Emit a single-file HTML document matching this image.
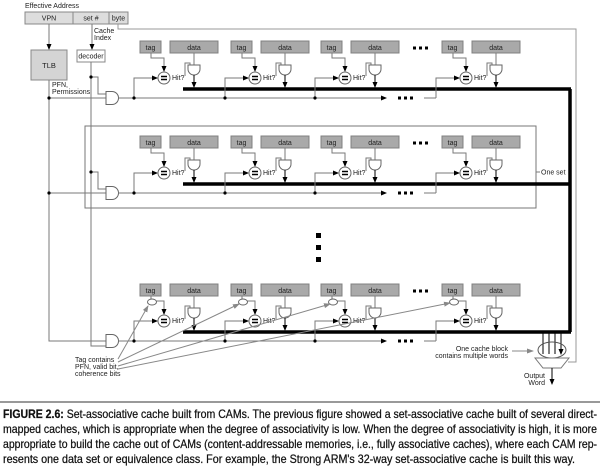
<!DOCTYPE html>
<html><head><meta charset="utf-8"><style>
html,body{margin:0;padding:0;background:#fff;}
svg{display:block;font-family:"Liberation Sans",sans-serif;}
.w{fill:none;stroke:#7a7a7a;stroke-width:1;}
.t{font-size:7px;fill:#222;}
</style></head><body>
<svg width="600" height="468" viewBox="0 0 600 468" xmlns="http://www.w3.org/2000/svg">
<defs>
<marker id="a" markerWidth="6" markerHeight="6" refX="5" refY="3" orient="auto" markerUnits="userSpaceOnUse"><path d="M0,0.5 L6,3 L0,5.5Z" fill="#000"/></marker>
<marker id="g" markerWidth="7" markerHeight="6" refX="6" refY="3" orient="auto" markerUnits="userSpaceOnUse"><path d="M0,0.5 L7,3 L0,5.5Z" fill="#888"/></marker>
<g id="col">
<rect x="0" y="0" width="21" height="12" fill="#a9a9a9" stroke="#808080"/>
<rect x="30" y="0" width="48" height="12" fill="#a9a9a9" stroke="#808080"/>
<path class="w" d="M11 12V17H24V30" marker-end="url(#a)"/>
<path class="w" d="M-6 57V37H17" marker-end="url(#a)"/>
<circle cx="24" cy="37" r="6" fill="#fff" stroke="#666"/>
<path d="M21 35.5h6M21 38.5h6" stroke="#000" stroke-width="1.5"/>
<path class="w" d="M45 35V22H50V24"/>
<path class="w" d="M54 12V24"/>
<path d="M48 24H60V28A6 6 0 0 1 48 28Z" fill="#fff" stroke="#666"/>
<path class="w" d="M54 34V46" marker-end="url(#a)" style="stroke:#000"/>
</g>
<g id="dot"><circle cx="-6" cy="57" r="1.6" fill="#000"/></g>
<g id="el"><ellipse cx="12" cy="18" rx="4.5" ry="3" fill="#fff" stroke="#666"/></g>
</defs>

<text x="25" y="8" class="t">Effective Address</text>
<rect x="25" y="12" width="48" height="12" fill="#ddd" stroke="#888"/>
<rect x="73" y="12" width="36" height="12" fill="#ddd" stroke="#888"/>
<rect x="109" y="12" width="19" height="12" fill="#ddd" stroke="#888"/>
<text x="49" y="20.5" class="t" text-anchor="middle">VPN</text>
<text x="91" y="20.5" class="t" text-anchor="middle">set #</text>
<text x="118.5" y="20.5" class="t" text-anchor="middle">byte</text>
<path d="M118 24V29H576V362H568" fill="none" stroke="#999"/>
<path class="w" d="M49 24V49" marker-end="url(#a)"/>
<path class="w" d="M92 24V49" marker-end="url(#a)"/>
<text x="94" y="33" class="t">Cache</text><text x="94" y="40" class="t">Index</text>
<rect x="31" y="50" width="36" height="30" fill="#d4d4d4" stroke="#888"/>
<text x="49" y="68" class="t" text-anchor="middle" style="font-size:7.5px">TLB</text>
<rect x="77" y="50" width="28" height="12" fill="#fff" stroke="#888"/>
<text x="91" y="58.5" class="t" text-anchor="middle">decoder</text>
<text x="52" y="87" class="t">PFN,</text><text x="52" y="94" class="t">Permissions</text>
<path class="w" d="M49 80V341H106"/>
<path class="w" d="M91 62V346H106"/>

<rect x="85" y="126" width="451" height="82" fill="none" stroke="#777"/>
<path class="w" d="M536 172H540"/>
<text x="541" y="174.5" class="t">One set</text>

<path d="M570 89V332" stroke="#000" stroke-width="3.5" fill="none"/>

<g>
<path d="M183 89H571" stroke="#000" stroke-width="3.5"/>
<path class="w" d="M49 98H106M91 77H98V94H106"/>
<circle cx="49" cy="98" r="1.6"/><circle cx="91" cy="77" r="1.6"/>
<path d="M106 91.5H112A6.5 6.5 0 0 1 112 104.5H106Z" fill="#fff" stroke="#666"/>
<path class="w" d="M119 98H386" marker-end="url(#a)"/>
<path class="w" d="M424 98H436"/>
<rect x="398" y="96.5" width="3" height="3"/><rect x="404" y="96.5" width="3" height="3"/><rect x="410" y="96.5" width="3" height="3"/>
<rect x="413" y="46.5" width="3" height="3"/><rect x="419" y="46.5" width="3" height="3"/><rect x="425" y="46.5" width="3" height="3"/>
<use href="#col" x="140" y="41"/><use href="#col" x="231" y="41"/><use href="#col" x="321" y="41"/><use href="#col" x="442" y="41"/>
<use href="#dot" x="140" y="41"/><use href="#dot" x="231" y="41"/><use href="#dot" x="321" y="41"/>
</g>
<g>
<path d="M183 184H571" stroke="#000" stroke-width="3.5"/>
<path class="w" d="M49 193H106M91 172H98V189H106"/>
<circle cx="49" cy="193" r="1.6"/><circle cx="91" cy="172" r="1.6"/>
<path d="M106 186.5H112A6.5 6.5 0 0 1 112 199.5H106Z" fill="#fff" stroke="#666"/>
<path class="w" d="M119 193H386" marker-end="url(#a)"/>
<path class="w" d="M424 193H436"/>
<rect x="398" y="191.5" width="3" height="3"/><rect x="404" y="191.5" width="3" height="3"/><rect x="410" y="191.5" width="3" height="3"/>
<rect x="413" y="141.5" width="3" height="3"/><rect x="419" y="141.5" width="3" height="3"/><rect x="425" y="141.5" width="3" height="3"/>
<use href="#col" x="140" y="136"/><use href="#col" x="231" y="136"/><use href="#col" x="321" y="136"/><use href="#col" x="442" y="136"/>
<use href="#dot" x="140" y="136"/><use href="#dot" x="231" y="136"/><use href="#dot" x="321" y="136"/>
</g>
<g>
<path d="M183 332H571" stroke="#000" stroke-width="3.5"/>
<path d="M106 334.5H112A6.5 6.5 0 0 1 112 347.5H106Z" fill="#fff" stroke="#666"/>
<path class="w" d="M119 341H386" marker-end="url(#a)"/>
<path class="w" d="M424 341H436"/>
<rect x="398" y="339.5" width="3" height="3"/><rect x="404" y="339.5" width="3" height="3"/><rect x="410" y="339.5" width="3" height="3"/>
<rect x="413" y="289.5" width="3" height="3"/><rect x="419" y="289.5" width="3" height="3"/><rect x="425" y="289.5" width="3" height="3"/>
<use href="#col" x="140" y="284"/><use href="#col" x="231" y="284"/><use href="#col" x="321" y="284"/><use href="#col" x="442" y="284"/>
<use href="#dot" x="140" y="284"/><use href="#dot" x="231" y="284"/><use href="#dot" x="321" y="284"/>
<use href="#el" x="140" y="284"/><use href="#el" x="231" y="284"/><use href="#el" x="321" y="284"/><use href="#el" x="442" y="284"/>
</g>

<g class="t" text-anchor="middle">
<text x="150.5" y="50">tag</text><text x="194" y="50">data</text>
<text x="241.5" y="50">tag</text><text x="285" y="50">data</text>
<text x="331.5" y="50">tag</text><text x="375" y="50">data</text>
<text x="452.5" y="50">tag</text><text x="496" y="50">data</text>
<text x="150.5" y="145">tag</text><text x="194" y="145">data</text>
<text x="241.5" y="145">tag</text><text x="285" y="145">data</text>
<text x="331.5" y="145">tag</text><text x="375" y="145">data</text>
<text x="452.5" y="145">tag</text><text x="496" y="145">data</text>
<text x="150.5" y="293">tag</text><text x="194" y="293">data</text>
<text x="241.5" y="293">tag</text><text x="285" y="293">data</text>
<text x="331.5" y="293">tag</text><text x="375" y="293">data</text>
<text x="452.5" y="293">tag</text><text x="496" y="293">data</text>
</g>
<g class="t">
<text x="172" y="80">Hit?</text><text x="263" y="80">Hit?</text><text x="353" y="80">Hit?</text><text x="474" y="80">Hit?</text>
<text x="172" y="175">Hit?</text><text x="263" y="175">Hit?</text><text x="353" y="175">Hit?</text><text x="474" y="175">Hit?</text>
<text x="172" y="323">Hit?</text><text x="263" y="323">Hit?</text><text x="353" y="323">Hit?</text><text x="474" y="323">Hit?</text>
</g>

<rect x="316" y="233" width="5" height="5"/><rect x="316" y="245" width="5" height="5"/><rect x="316" y="257" width="5" height="5"/>

<g stroke="#888" fill="none">
<path d="M118 359L148 306" marker-end="url(#g)"/>
<path d="M118 362L239 304" marker-end="url(#g)"/>
<path d="M118 366L330 304" marker-end="url(#g)"/>
<path d="M118 369L450 303" marker-end="url(#g)"/>
</g>
<text x="75" y="362" class="t">Tag contains</text>
<text x="75" y="369" class="t">PFN, valid bit,</text>
<text x="75" y="376" class="t">coherence bits</text>

<g stroke="#000">
<path d="M543 332V354M549 332V354M555 332V354M561 332V354" marker-end="url(#a)"/>
</g>
<ellipse cx="552" cy="350" rx="14" ry="8" fill="none" stroke="#555"/>
<path d="M535 358H569L561 368H543Z" fill="#fff" stroke="#777"/>
<path d="M552 368V384" stroke="#000" marker-end="url(#a)"/>
<text x="545" y="378" class="t" text-anchor="end">Output</text>
<text x="545" y="385" class="t" text-anchor="end">Word</text>
<text x="508" y="351" class="t" text-anchor="end">One cache block</text>
<text x="508" y="358" class="t" text-anchor="end">contains multiple words</text>
<path d="M512 351H533" stroke="#888" marker-end="url(#g)"/>

<path d="M0 402H600" stroke="#999" stroke-width="2"/>
<g style="font-size:12px" fill="#111" stroke="#111" stroke-width="0.25">
<text x="3" y="418" textLength="594" lengthAdjust="spacingAndGlyphs"><tspan font-weight="bold">FIGURE 2.6:</tspan>  Set-associative cache built from CAMs. The previous figure showed a set-associative cache built of several direct-</text>
<text x="3" y="433" textLength="594" lengthAdjust="spacingAndGlyphs">mapped caches, which is appropriate when the degree of associativity is low. When the degree of associativity is high, it is more</text>
<text x="3" y="448" textLength="594" lengthAdjust="spacingAndGlyphs">appropriate to build the cache out of CAMs (content-addressable memories, i.e., fully associative caches), where each CAM rep-</text>
<text x="3" y="463" textLength="572" lengthAdjust="spacingAndGlyphs">resents one data set or equivalence class. For example, the Strong ARM's 32-way set-associative cache is built this way.</text>
</g>
</svg>
</body></html>
